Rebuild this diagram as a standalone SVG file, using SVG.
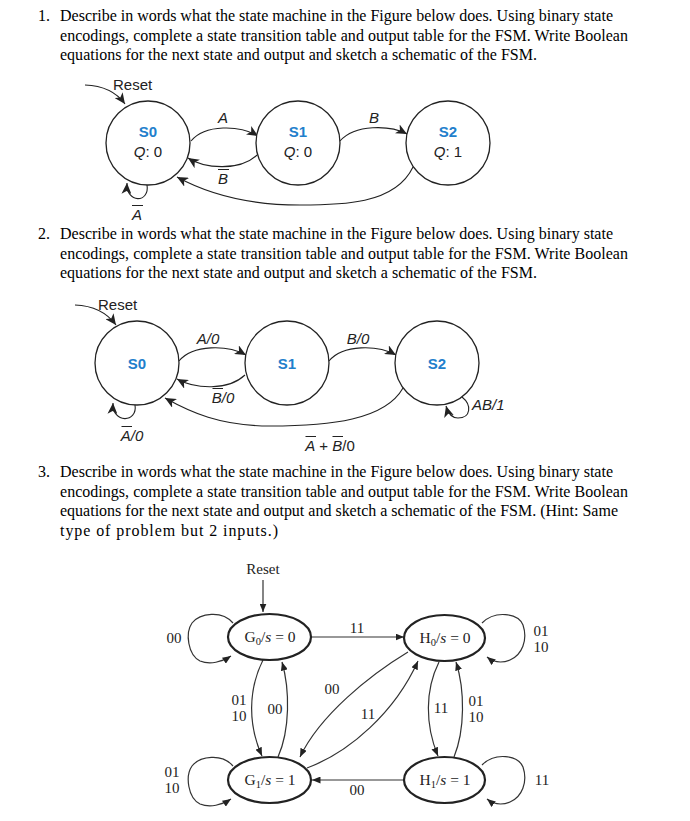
<svg xmlns="http://www.w3.org/2000/svg" width="690" height="821" viewBox="0 0 690 821">
<style>
.p{font-family:"Liberation Serif","Times New Roman",serif;font-size:16px;fill:#000}
.s{font-family:"Liberation Sans",Arial,sans-serif;font-size:15px;fill:#222}
.i{font-style:italic}
.st{font-family:"Liberation Sans",Arial,sans-serif;font-size:15px;font-weight:bold;fill:#1f80cc}
.t{font-family:"Liberation Serif","Times New Roman",serif;font-size:15px;fill:#222}
.n{font-family:"Liberation Serif","Times New Roman",serif;font-size:15.5px;fill:#222}
.c{fill:#fff;stroke:#222;stroke-width:1.3}
.e{fill:#fff;stroke:#222;stroke-width:2.2}
.w{fill:none;stroke:#222;stroke-width:1.1}
.w3{fill:none;stroke:#333;stroke-width:1.2}
.ov{stroke:#222;stroke-width:1}
</style>
<defs>
<marker id="ah" markerUnits="userSpaceOnUse" markerWidth="12" markerHeight="10" refX="11" refY="5" orient="auto"><path d="M0,0 L11,5 L0,10 L3,5 Z" fill="#222"/></marker>
<marker id="ah3" markerUnits="userSpaceOnUse" markerWidth="9" markerHeight="7" refX="8.5" refY="3.5" orient="auto"><path d="M0,0 L8.5,3.5 L0,7 Z" fill="#222"/></marker>
</defs>
<rect width="690" height="821" fill="#fff"/>

<g id="q1-text">
<text class="p" x="38" y="21">1.</text>
<text class="p" x="60" y="21" textLength="553" lengthAdjust="spacing">Describe in words what the state machine in the Figure below does. Using binary state</text>
<text class="p" x="60" y="40.5" textLength="568" lengthAdjust="spacing">encodings, complete a state transition table and output table for the FSM. Write Boolean</text>
<text class="p" x="60" y="60" textLength="477" lengthAdjust="spacing">equations for the next state and output and sketch a schematic of the FSM.</text>
</g>

<g id="d1-connectors">
<path class="w" d="M85,85 Q112,86 125,104" marker-end="url(#ah)"/>
<path class="w" d="M191,141 C205,124 240,125 258,136" marker-end="url(#ah)"/>
<path class="w" d="M257,155 C240,171 205,169 188,158" marker-end="url(#ah)"/>
<path class="w" d="M340,141 C355,124 390,125 407,134" marker-end="url(#ah)"/>
<path class="w" d="M413,167 C395,205 340,205 300,205 C250,205 210,195 177,177" marker-end="url(#ah)"/>
<path class="w" d="M147,185 C150,203 126,204 127,183" marker-end="url(#ah)"/>
<text class="s" x="113" y="90">Reset</text>
<text class="s i" x="223" y="123" text-anchor="middle">A</text>
<text class="s i" x="223" y="184" text-anchor="middle">B</text>
<line class="ov" x1="218" y1="169.5" x2="229" y2="169.5"/>
<text class="s i" x="374" y="123" text-anchor="middle">B</text>
<text class="s i" x="137" y="220" text-anchor="middle">A</text>
<line class="ov" x1="132" y1="205.5" x2="143" y2="205.5"/>
</g>
<g id="d1-S0"><circle class="c" cx="148" cy="143" r="42"/><text class="st" x="148" y="137" text-anchor="middle">S0</text><text class="s" x="148" y="156.5" text-anchor="middle"><tspan class="i">Q</tspan>: 0</text></g>
<g id="d1-S1"><circle class="c" cx="298" cy="143" r="42"/><text class="st" x="298" y="137" text-anchor="middle">S1</text><text class="s" x="298" y="156.5" text-anchor="middle"><tspan class="i">Q</tspan>: 0</text></g>
<g id="d1-S2"><circle class="c" cx="448" cy="143" r="42"/><text class="st" x="448" y="137" text-anchor="middle">S2</text><text class="s" x="448" y="156.5" text-anchor="middle"><tspan class="i">Q</tspan>: 1</text></g>

<g id="q2-text">
<text class="p" x="38" y="239">2.</text>
<text class="p" x="60" y="239" textLength="553" lengthAdjust="spacing">Describe in words what the state machine in the Figure below does. Using binary state</text>
<text class="p" x="60" y="258.5" textLength="568" lengthAdjust="spacing">encodings, complete a state transition table and output table for the FSM. Write Boolean</text>
<text class="p" x="60" y="278" textLength="477" lengthAdjust="spacing">equations for the next state and output and sketch a schematic of the FSM.</text>
</g>

<g id="d2-connectors">
<path class="w" d="M75,305 Q102,306 116,325" marker-end="url(#ah)"/>
<path class="w" d="M179,361 C193,344 228,345 246,355" marker-end="url(#ah)"/>
<path class="w" d="M245,375 C228,391 195,389 177,379" marker-end="url(#ah)"/>
<path class="w" d="M329,361 C343,344 378,345 396,355" marker-end="url(#ah)"/>
<path class="w" d="M403,388 C385,420 330,426 270,426 C220,426 190,412 165,398" marker-end="url(#ah)"/>
<path class="w" d="M135,405 C138,423 112,424 113,403" marker-end="url(#ah)"/>
<path class="w" d="M462,397 C472,405 471,418 458,418 C452,418 448,413 446,406" marker-end="url(#ah)"/>
<text class="s" x="98" y="310">Reset</text>
<text class="s i" x="208" y="344" text-anchor="middle">A/0</text>
<text class="s i" x="223" y="403" text-anchor="middle">B/0</text>
<line class="ov" x1="212.5" y1="388.5" x2="223" y2="388.5"/>
<text class="s i" x="132" y="441" text-anchor="middle">A/0</text>
<line class="ov" x1="121.5" y1="426.5" x2="132" y2="426.5"/>
<text class="s i" x="358" y="344" text-anchor="middle">B/0</text>
<text class="s i" x="472" y="410">AB/1</text>
<text class="s" x="330" y="451" text-anchor="middle"><tspan class="i">A</tspan> + <tspan class="i">B</tspan>/0</text>
<line class="ov" x1="305.5" y1="436.5" x2="316" y2="436.5"/>
<line class="ov" x1="332.5" y1="436.5" x2="343" y2="436.5"/>
</g>
<g id="d2-S0"><circle class="c" cx="137" cy="363" r="42"/><text class="st" x="137" y="368.5" text-anchor="middle">S0</text></g>
<g id="d2-S1"><circle class="c" cx="287" cy="363" r="42"/><text class="st" x="287" y="368.5" text-anchor="middle">S1</text></g>
<g id="d2-S2"><circle class="c" cx="437" cy="363" r="42"/><text class="st" x="437" y="368.5" text-anchor="middle">S2</text></g>

<g id="q3-text">
<text class="p" x="38" y="477">3.</text>
<text class="p" x="60" y="477" textLength="553" lengthAdjust="spacing">Describe in words what the state machine in the Figure below does. Using binary state</text>
<text class="p" x="60" y="496.5" textLength="568" lengthAdjust="spacing">encodings, complete a state transition table and output table for the FSM. Write Boolean</text>
<text class="p" x="60" y="516" textLength="558" lengthAdjust="spacing">equations for the next state and output and sketch a schematic of the FSM. (Hint: Same</text>
<text class="p" x="60" y="535.5" textLength="218" lengthAdjust="spacing">type of problem but 2 inputs.)</text>
</g>

<g id="d3-connectors">
<line class="w3" x1="263" y1="580" x2="263" y2="612" marker-end="url(#ah3)"/>
<path class="w3" d="M233,623 C222,610 200,613 192,623 C185,633 188,655 200,661 C210,665 222,662 231,656" marker-end="url(#ah3)"/>
<line class="w3" x1="311" y1="637" x2="404" y2="637" marker-end="url(#ah3)"/>
<path class="w3" d="M482,623 C495,610 518,613 523,625 C528,640 522,655 510,660 C500,664 492,661 487,657" marker-end="url(#ah3)"/>
<path class="w3" d="M439,662 C425,690 425,725 438,756" marker-end="url(#ah3)"/>
<path class="w3" d="M454,757 C465,730 465,690 456,662" marker-end="url(#ah3)"/>
<path class="w3" d="M263,660 C248,690 248,725 262,756" marker-end="url(#ah3)"/>
<path class="w3" d="M278,757 C290,730 290,690 282,662" marker-end="url(#ah3)"/>
<path class="w3" d="M408,652 C370,675 320,715 300,757" marker-end="url(#ah3)"/>
<path class="w3" d="M307,768 C350,752 395,712 418,661" marker-end="url(#ah3)"/>
<path class="w3" d="M233,766 C222,753 200,756 192,766 C185,776 188,798 200,804 C210,808 222,805 231,799" marker-end="url(#ah3)"/>
<line class="w3" x1="404" y1="780" x2="312" y2="780" marker-end="url(#ah3)"/>
<path class="w3" d="M482,765 C495,752 518,755 523,767 C528,782 522,797 510,802 C500,806 492,803 487,799" marker-end="url(#ah3)"/>
<text class="t" x="263" y="574" text-anchor="middle">Reset</text>
<text class="t" x="174" y="643" text-anchor="middle">00</text>
<text class="t" x="357" y="633" text-anchor="middle">11</text>
<text class="t" x="541" y="636" text-anchor="middle">01</text>
<text class="t" x="541" y="652" text-anchor="middle">10</text>
<text class="t" x="441" y="713" text-anchor="middle">11</text>
<text class="t" x="476" y="706" text-anchor="middle">01</text>
<text class="t" x="476" y="722" text-anchor="middle">10</text>
<text class="t" x="239" y="705" text-anchor="middle">01</text>
<text class="t" x="239" y="721" text-anchor="middle">10</text>
<text class="t" x="275" y="714" text-anchor="middle">00</text>
<text class="t" x="332" y="694" text-anchor="middle">00</text>
<text class="t" x="368" y="719" text-anchor="middle">11</text>
<text class="t" x="172" y="777" text-anchor="middle">01</text>
<text class="t" x="172" y="793" text-anchor="middle">10</text>
<text class="t" x="357" y="795" text-anchor="middle">00</text>
<text class="t" x="542" y="785" text-anchor="middle">11</text>
</g>
<g id="d3-G0"><ellipse class="e" cx="269.5" cy="637" rx="41.5" ry="23"/><text class="n" x="270" y="642" text-anchor="middle">G<tspan font-size="10.5" dy="3">0</tspan><tspan dy="-3">/</tspan><tspan class="i">s</tspan> = 0</text></g>
<g id="d3-H0"><ellipse class="e" cx="444.5" cy="638" rx="40.5" ry="23"/><text class="n" x="445" y="643" text-anchor="middle">H<tspan font-size="10.5" dy="3">0</tspan><tspan dy="-3">/</tspan><tspan class="i">s</tspan> = 0</text></g>
<g id="d3-G1"><ellipse class="e" cx="269.5" cy="780" rx="41.5" ry="23"/><text class="n" x="270" y="785" text-anchor="middle">G<tspan font-size="10.5" dy="3">1</tspan><tspan dy="-3">/</tspan><tspan class="i">s</tspan> = 1</text></g>
<g id="d3-H1"><ellipse class="e" cx="444.5" cy="780" rx="40.5" ry="23"/><text class="n" x="445" y="785" text-anchor="middle">H<tspan font-size="10.5" dy="3">1</tspan><tspan dy="-3">/</tspan><tspan class="i">s</tspan> = 1</text></g>
</svg>
